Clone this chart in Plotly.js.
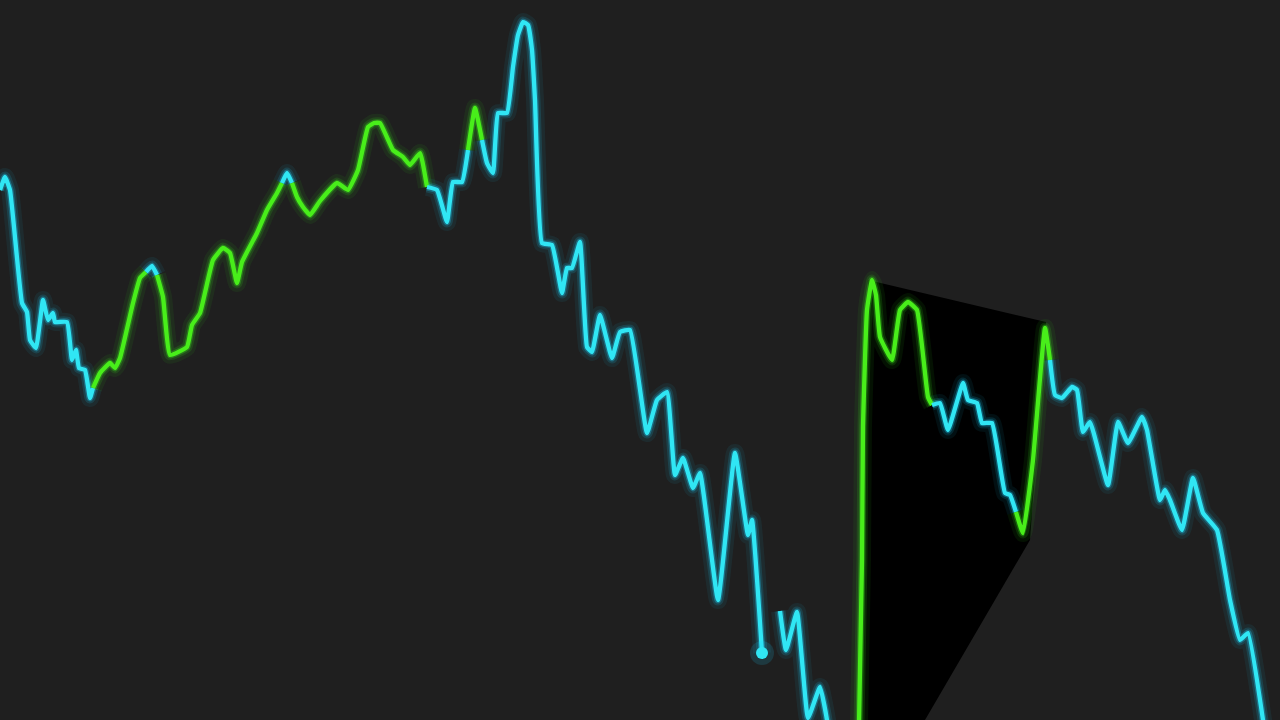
<!DOCTYPE html>
<html>
<head>
<meta charset="utf-8">
<script src="https://cdn.plot.ly/plotly-3.0.1.min.js"></script>
<style>html,body{margin:0;padding:0;background:#1f1f1f;}#chart{width:1280px;height:720px;}</style>
</head>
<body>
<div id="chart"></div>
<script>
// Time positions and price readings (screen-like scale, y grows downward)
const t = [0,5,10,22,27,30,36,43,48,53,55,67,72,76,79,85,90,93,100,110,115,120,133,140,146,152,157,163,170,187,192,200,213,223,230,237,242,257,267,277,282,287,292,297,303,310,320,337,348,358,368,374,380,393,403,410,420,427,437,447,453,462,468,475,482,487,493,498,507,513,518,523,528,532,535,542,552,562,567,572,580,587,592,600,612,620,630,647,657,667,675,683,693,700,718,735,748,752,762,null,780,786,797,808,820,827,832,858,862,863,867,872,876,880,892,900,908,917,928,932,940,948,963,968,977,982,992,1005,1010,1016,1023,1033,1045,1050,1055,1062,1072,1077,1083,1090,1108,1118,1128,1142,1147,1160,1165,1170,1182,1193,1203,1217,1230,1240,1248,1263,1268];
const level = [190,177,190,303,312,340,348,300,320,313,322,322,360,350,368,370,398,388,373,363,368,358,303,278,272,266,275,297,355,347,325,313,260,248,253,283,262,233,210,193,183,173,183,197,207,215,201,183,190,170,127,123,123,150,157,165,153,187,190,222,182,182,150,108,140,163,173,113,113,67,35,22,25,50,100,243,245,293,268,268,242,347,352,315,358,332,330,433,400,392,475,458,488,473,600,453,535,520,653,null,611,650,612,718,687,720,760,780,560,427,310,280,295,337,360,310,302,310,397,405,403,430,383,400,403,423,423,493,495,512,533,460,328,360,395,398,387,390,432,422,485,422,443,417,430,500,490,500,530,478,513,530,600,640,633,720,760];
// spans of time where the line is in the green regime
const greenSpans = [[93,146],[157,282],[292,427],[468,482],[858,932],[1016,1050]];
// shaded (black) zone outline
const zoneT = [860,868,1046,1030,925];
const zoneLevel = [720,280,322,540,720];
// end-of-segment dot
const dotT = [762];
const dotLevel = [653];

const CYAN = '#30e6f4', GREEN = '#48ee1a';
const CYAN_GLOW = 'rgba(30,210,255,1)', GREEN_GLOW = 'rgba(60,235,30,1)';

function isGreen(x){ return greenSpans.some(s => x >= s[0] && x < s[1]); }

// split into runs of same colour
const runs = [];
let cur = null;
for (let i = 0; i < t.length - 1; i++) {
  if (t[i] === null || t[i+1] === null) { cur = null; continue; }
  const g = isGreen(t[i]);
  if (!cur || cur.g !== g) {
    cur = {g: g, x: [t[i]], y: [level[i]]};
    runs.push(cur);
  }
  cur.x.push(t[i+1]); cur.y.push(level[i+1]);
}

const traces = [];
traces.push({x: zoneT, y: zoneLevel, type: 'scatter', mode: 'lines', fill: 'toself',
  fillcolor: '#000000', line: {width: 0, color: '#000000'}, hoverinfo: 'skip'});

const layers = [
  {w: 18, o: 0.07}, {w: 11, o: 0.14}, {w: 7, o: 0.3}, {w: 4.3, o: 1}
];
layers.forEach(L => {
  runs.forEach(r => {
    const col = L.o === 1 ? (r.g ? GREEN : CYAN) : (r.g ? GREEN_GLOW : CYAN_GLOW);
    traces.push({x: r.x, y: r.y, type: 'scatter', mode: 'lines', opacity: L.o,
      line: {color: col, width: L.w, shape: 'spline', smoothing: 0.35}, hoverinfo: 'skip'});
  });
});
traces.push({x: dotT, y: dotLevel, type: 'scatter', mode: 'markers',
  marker: {size: 24, color: CYAN_GLOW, opacity: 0.15}, hoverinfo: 'skip'});
traces.push({x: dotT, y: dotLevel, type: 'scatter', mode: 'markers',
  marker: {size: 12, color: CYAN}, hoverinfo: 'skip'});

const layout = {
  width: 1280, height: 720,
  margin: {l: 0, r: 0, t: 0, b: 0},
  paper_bgcolor: '#1f1f1f', plot_bgcolor: '#1f1f1f',
  showlegend: false,
  xaxis: {range: [0, 1280], visible: false, fixedrange: true},
  yaxis: {range: [720, 0], visible: false, fixedrange: true}
};
Plotly.newPlot('chart', traces, layout, {displayModeBar: false, staticPlot: true});
</script>
</body>
</html>
